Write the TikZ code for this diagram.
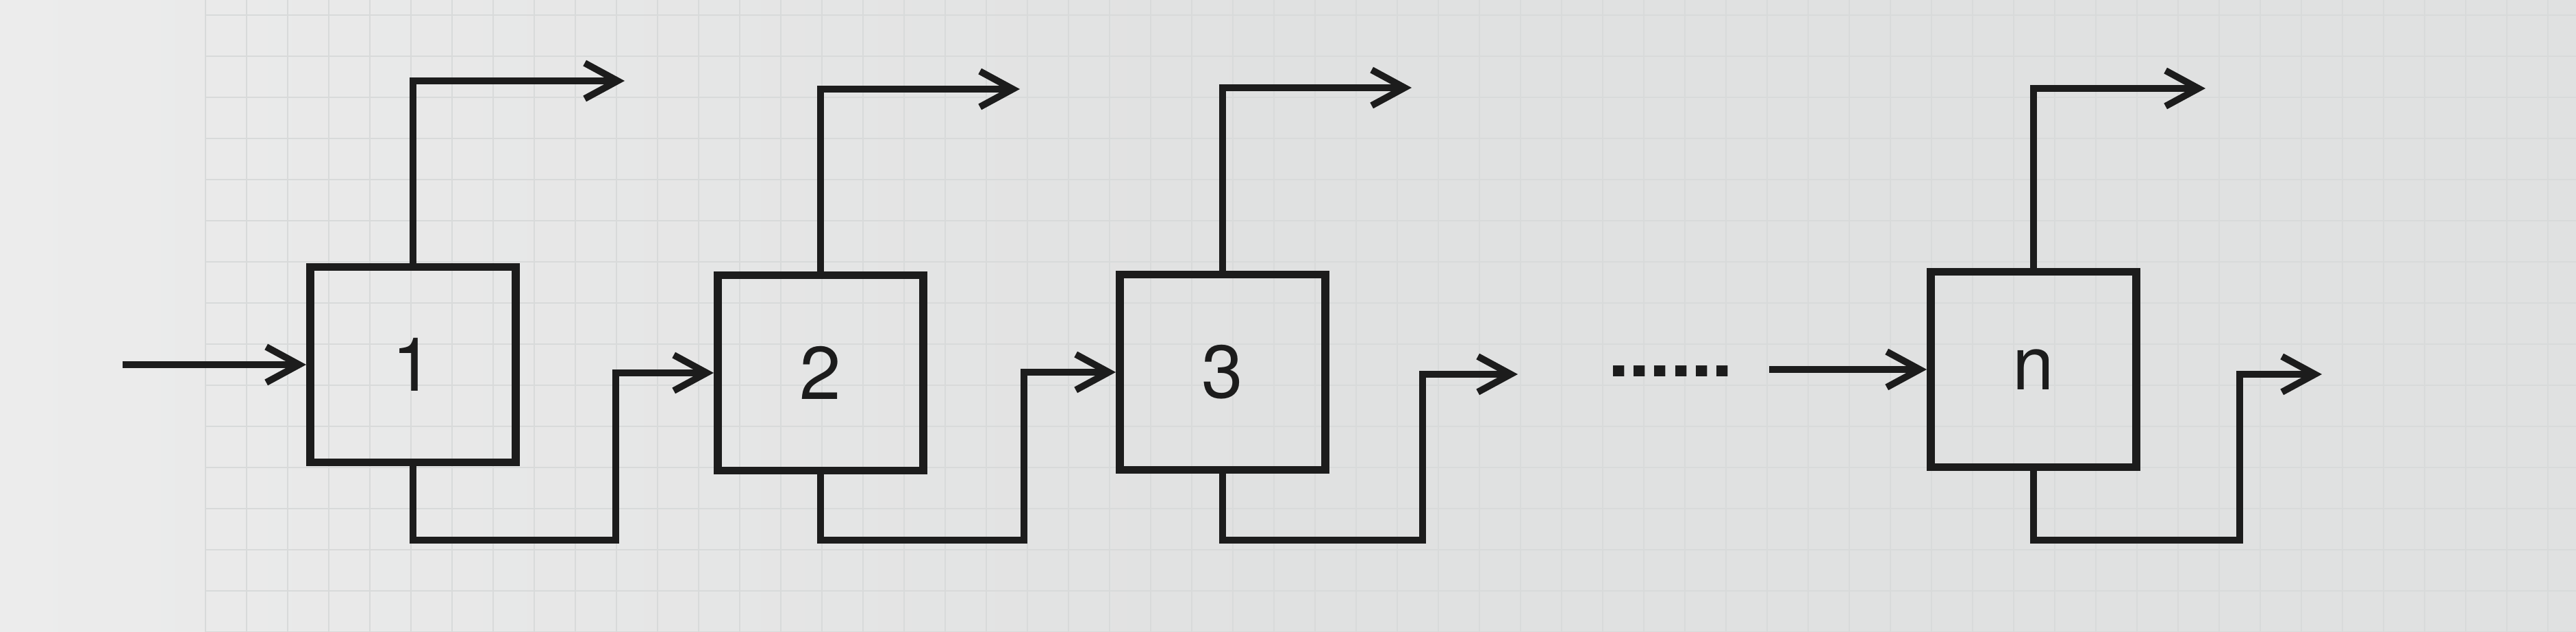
\documentclass[tikz,border=0pt]{standalone}
\usepackage{fontspec}
\setmainfont{TeX Gyre Heros}
\usetikzlibrary{arrows.meta}
\definecolor{paper}{RGB}{224,225,225}
\definecolor{paperlight}{RGB}{236,236,236}
\definecolor{ink}{RGB}{28,28,28}
\definecolor{gridink}{RGB}{216,218,218}
\tikzset{
  unit/.style={draw=ink, line width=3.4pt, minimum width=3cm, minimum height=2.85cm, inner sep=0pt, font=\fontsize{31}{36}\selectfont, text=ink},
  flow/.style={draw=ink, line width=2.6pt, -{Straight Barb[length=4.8mm,width=5.2mm,line width=2.8pt]}},
  gridline/.style={draw=gridink, line width=0.5pt}
}
\begin{document}
\begin{tikzpicture}
\useasboundingbox (0,0) rectangle (37.61,9.22);
% paper
\shade[left color=paperlight, right color=paper, middle color=paper] (0,0) rectangle (37.61,9.22);
\draw[gridline, step=0.6] (3.0,0) grid (37.61,9.22);
% units
\node[unit] (u1) at (6.03,3.90) {1};
\node[unit] (u2) at (11.98,3.78) {2};
\node[unit] (u3) at (17.85,3.79) {3};
\node[unit] (un) at (29.69,3.83) {n};
% ends of the connectors
\coordinate (in) at (1.79,3.90);
\coordinate (o1) at (9.12,8.04);
\coordinate (o2) at (14.89,7.92);
\coordinate (o3) at (20.61,7.94);
\coordinate (on) at (32.20,7.93);
\coordinate (r1) at (8.99,1.34);
\coordinate (r2) at (14.95,1.34);
\coordinate (r3) at (20.77,1.34);
\coordinate (rn) at (32.70,1.34);
\coordinate (e3) at (22.16,3.76);
\coordinate (en) at (33.90,3.76);
\coordinate (d) at (25.83,3.83);
\node[anchor=base, inner sep=0pt, text=ink, font=\fontsize{31}{36}\selectfont\bfseries] (dots) at (24.39,3.72) {......};
% flows
\draw[flow] (in) -- (u1.west);
\draw[flow] (u1.north) |- (o1);
\draw[flow] (u2.north) |- (o2);
\draw[flow] (u3.north) |- (o3);
\draw[flow] (un.north) |- (on);
\draw[flow] (u1.south) |- (r1) |- (u2.west);
\draw[flow] (u2.south) |- (r2) |- (u3.west);
\draw[flow] (u3.south) |- (r3) |- (e3);
\draw[flow] (d) -- (un.west);
\draw[flow] (un.south) |- (rn) |- (en);
\end{tikzpicture}
\end{document}
